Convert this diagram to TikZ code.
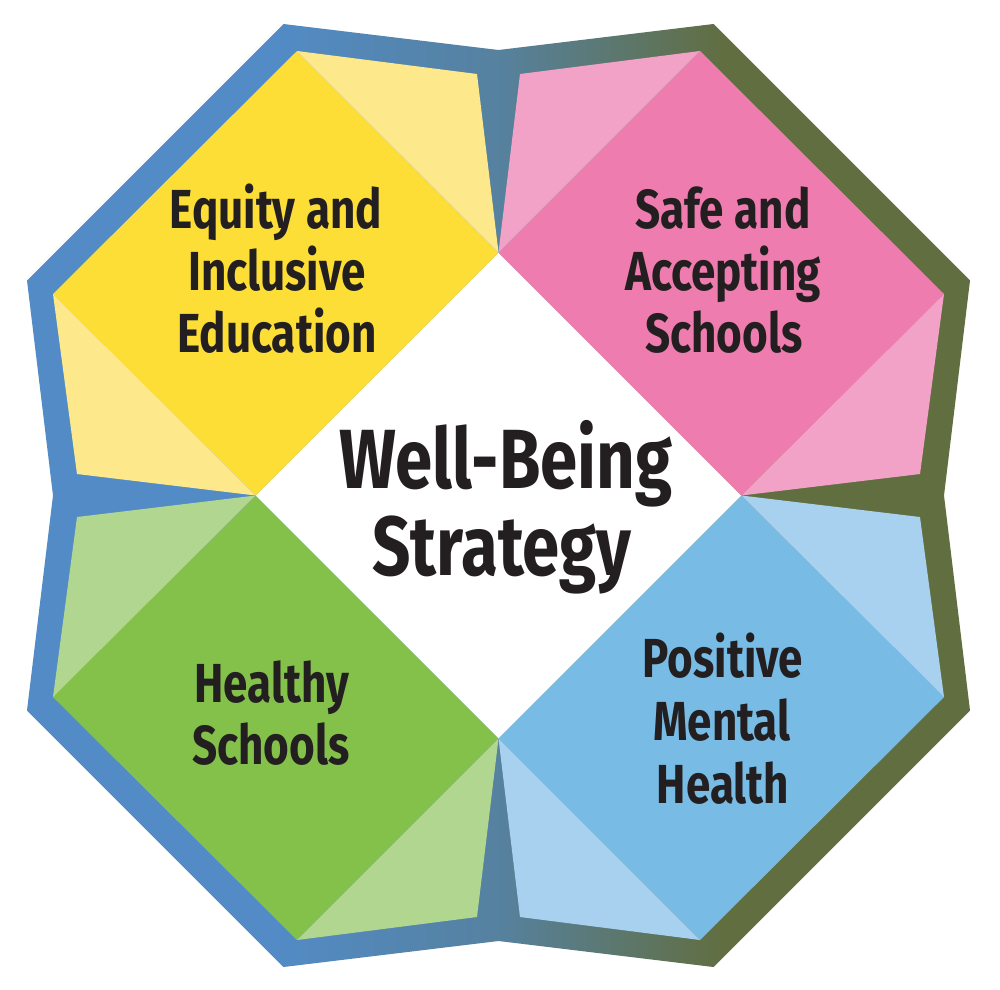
\documentclass[tikz,border=0pt]{standalone}
\usepackage{fontspec}
\setmainfont{Fira Sans}[FakeStretch=0.8]
\definecolor{yel}{HTML}{FDDE36}
\definecolor{yellt}{HTML}{FDE98C}
\definecolor{pnk}{HTML}{EE7CAE}
\definecolor{pnklt}{HTML}{F2A2C6}
\definecolor{grn}{HTML}{84C14B}
\definecolor{grnlt}{HTML}{B1D68F}
\definecolor{blu}{HTML}{78BCE5}
\definecolor{blult}{HTML}{A8D0EF}
\definecolor{txt}{HTML}{231F20}
\definecolor{bdblue}{HTML}{528BC6}
\definecolor{bdmid}{HTML}{56819F}
\definecolor{bdolive}{HTML}{616E40}
\pgfdeclarehorizontalshading{bordershade}{100bp}{color(0bp)=(bdblue); color(38bp)=(bdblue); color(50bp)=(bdmid); color(62bp)=(bdolive); color(100bp)=(bdolive)}
\tikzset{
  lbl/.style={font=\fontsize{55}{62}\selectfont\bfseries, text=txt, inner sep=0pt, anchor=base},
  title/.style={font=\fontsize{84}{87}\selectfont\bfseries, text=txt, inner sep=0pt, anchor=base},
  piece/.style={draw=none}
}
\begin{document}
\begin{tikzpicture}[x=1pt,y=-1pt]
\useasboundingbox (0,0) rectangle (1000,989);
\begin{scope}[shift={(498.5,495.5)}]
  % outer border band
  \shade[shading=bordershade] (-215,-471.5) -- (0,-445.5) -- (215,-471.5) -- (471.5,-215) -- (445.5,0) -- (471.5,215) -- (215,471.5) -- (0,445.5) -- (-215,471.5) -- (-471.5,215) -- (-445.5,0) -- (-471.5,-215) -- cycle;
  % centre
  \fill[white] (0,-243) -- (243,0) -- (0,243) -- (-243,0) -- cycle;
  % yellow (top left)
  \fill[yel] (0,-243) -- (-201.5,-444.5) -- (-445.5,-201.5) -- (-243,0) -- cycle;
  \fill[yellt] (-201.5,-444.5) -- (-21.5,-421.5) -- (0,-243) -- cycle;
  \fill[yellt] (-445.5,-201.5) -- (-421.5,-21.5) -- (-243,0) -- cycle;
  % pink (top right)
  \fill[pnk] (0,-243) -- (201.5,-444.5) -- (445.5,-201.5) -- (243,0) -- cycle;
  \fill[pnklt] (201.5,-444.5) -- (21.5,-421.5) -- (0,-243) -- cycle;
  \fill[pnklt] (445.5,-201.5) -- (421.5,-21.5) -- (243,0) -- cycle;
  % green (bottom left)
  \fill[grn] (0,243) -- (-201.5,444.5) -- (-445.5,201.5) -- (-243,0) -- cycle;
  \fill[grnlt] (-201.5,444.5) -- (-21.5,421.5) -- (0,243) -- cycle;
  \fill[grnlt] (-445.5,201.5) -- (-421.5,21.5) -- (-243,0) -- cycle;
  % blue (bottom right)
  \fill[blu] (0,243) -- (201.5,444.5) -- (445.5,201.5) -- (243,0) -- cycle;
  \fill[blult] (201.5,444.5) -- (21.5,421.5) -- (0,243) -- cycle;
  \fill[blult] (445.5,201.5) -- (421.5,21.5) -- (243,0) -- cycle;
\end{scope}
% labels
\node[lbl] (eq1) at (276,228) {Equity and};
\node[lbl] (eq2) at (277,290) {Inclusive};
\node[lbl] (eq3) at (277,352) {Education};
\node[lbl] (sa1) at (723,228) {Safe and};
\node[lbl] (sa2) at (723,290) {Accepting};
\node[lbl] (sa3) at (724,352) {Schools};
\node[lbl] (he1) at (272,702) {Healthy};
\node[lbl] (he2) at (271,764) {Schools};
\node[lbl] (po1) at (723,677) {Positive};
\node[lbl] (po2) at (722,740) {Mental};
\node[lbl] (po3) at (723,803) {Health};
\node[title] (wb1) at (506,488) {Well-Being};
\node[title] (wb2) at (502,575) {Strategy};
\end{tikzpicture}
\end{document}
